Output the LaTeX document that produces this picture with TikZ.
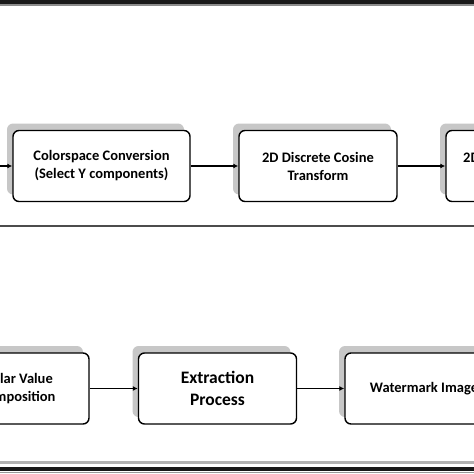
\documentclass[tikz,border=0pt]{standalone}
\usepackage{fontspec}
\setmainfont{Carlito}
\usetikzlibrary{shadows,arrows.meta}
\begin{document}
\begin{tikzpicture}[x=1pt,y=-1pt,
  stage/.style={draw=black, line width=1.4pt, rounded corners=6pt, fill=white,
    minimum width=158pt, minimum height=71pt, align=center, inner sep=0pt,
    font=\bfseries\fontsize{14.5}{18}\selectfont,
    drop shadow={shadow xshift=-6pt, shadow yshift=7pt, fill=black!22, opacity=1}},
  bigtext/.style={font=\bfseries\fontsize{17.5}{22}\selectfont},
  flow/.style={-{Latex[length=5pt,width=5pt]}, line width=1.2pt},
  rule/.style={line width=1.8pt, black!70}]
\useasboundingbox (0,0) rectangle (474,474);
\clip (0,0) rectangle (474,474);
% frame lines
\draw[line width=3.5pt, black!90] (-5,1.8) -- (480,1.8);
\draw[line width=2pt, black!45] (-5,5) -- (480,5);
\draw[rule] (-5,226) -- (480,226);
\draw[line width=3pt, black!30] (-5,462) -- (480,462);
\draw[line width=4pt, black!90] (-5,468.5) -- (480,468.5);
\draw[line width=1.5pt, black!40] (-5,472.5) -- (480,472.5);
% top row
\coordinate (inlet) at (-5,166);
\node[stage, minimum width=177pt] (csc) at (101.5,166) {Colorspace Conversion\\(Select Y components)};
\node[stage] (dct) at (318,166) {2D Discrete Cosine\\Transform};
\node[stage] (third) at (525,166) {};
\node[anchor=west, inner sep=0pt, font=\bfseries\fontsize{14.5}{18}\selectfont] (thirdtext) at (463,158) {2D};
\draw[flow] (inlet) -- (csc.west);
\draw[flow] (csc.east) -- (dct.west);
\draw[flow] (dct.east) -- (third.west);
% bottom row
\node[stage] (svd) at (10,388.5) {Singular Value\\Decomposition};
\node[stage, bigtext] (ext) at (217.5,388.5) {Extraction\\Process};
\node[stage] (wm) at (424,388.5) {Watermark Image};
\draw[flow] (svd.east) -- (ext.west);
\draw[flow] (ext.east) -- (wm.west);
\end{tikzpicture}
\end{document}
